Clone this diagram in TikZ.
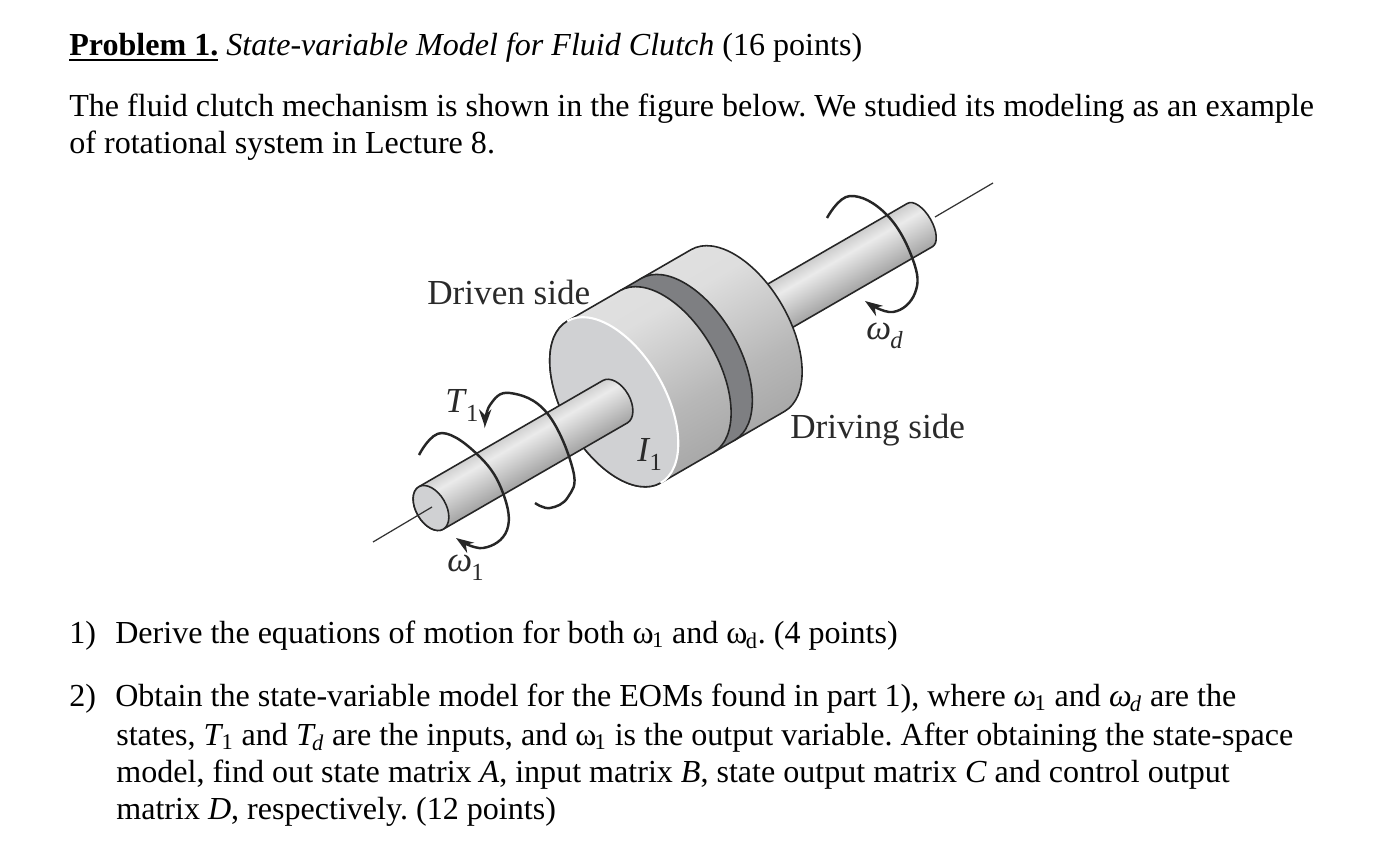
\documentclass[tikz,border=0pt]{standalone}
\usepackage{fontspec}
\setmainfont{Liberation Serif}
\usetikzlibrary{arrows.meta}

\definecolor{faceg}{HTML}{D0D1D3}
\definecolor{bandg}{HTML}{7E7F82}
\definecolor{inkg}{HTML}{2A2A2A}
\pgfdeclareverticalshading{rimshade}{100bp}{color(0bp)=(black!28);color(15bp)=(black!38);color(40bp)=(black!28);color(65bp)=(black!13);color(78bp)=(black!12);color(100bp)=(black!22)}
\pgfdeclareverticalshading{shaftshade}{100bp}{color(0bp)=(black!60);color(25bp)=(black!36);color(62bp)=(black!8);color(85bp)=(black!28);color(100bp)=(black!50)}

% outline of a cylinder: radii, then near and far station on the local y axis
\newcommand{\cylpath}[4]{([shift={(0,#4)}]180:#1 and #2) arc[start angle=180,end angle=360,x radius=#1,y radius=#2] -- ([shift={(0,#3)}]0:#1 and #2) arc[start angle=0,end angle=180,x radius=#1,y radius=#2] -- cycle}
\newcommand{\lowidx}[1]{\textsubscript{\kern-1pt #1}}
\newcommand{\figidx}[1]{\raisebox{-.28em}{\fontsize{14}{14}\selectfont\kern-.5pt #1}}

\tikzset{
  txt/.style={anchor=base west,inner sep=0pt,font=\fontsize{18.25}{20}\selectfont},
  figtxt/.style={anchor=base west,inner sep=0pt,text=inkg,font=\fontsize{20}{22}\selectfont},
  outline/.style={draw=black!85,line width=.9pt},
  turn/.style={line width=1.4pt,draw=black!85,-{Stealth[length=10pt,width=7pt]}},
  axisline/.style={line width=.7pt,black!80},
  discframe/.style={shift={(614,402)},rotate=-60},
  farframe/.style={shift={(920,225)},rotate=-60},
  nearframe/.style={shift={(431,508)},rotate=-60}
}

\begin{document}
\begin{tikzpicture}[x=0.02cm,y=-0.02cm]
\frenchspacing
\path[use as bounding box,fill=white] (0,0) rectangle (1386,852);

%% texts
\node[txt] (title) at (69,55) {\textbf{Problem 1.} \textit{State-variable Model for Fluid Clutch} (16 points)};
\draw[line width=1.3pt] (69,60) -- (218,60);
\node[txt] (introa) at (69,116) {The fluid clutch mechanism is shown in the figure below. We studied its modeling as an example};
\node[txt] (introb) at (69,153) {of rotational system in Lecture 8.};
\node[txt] (parta) at (69,643) {1)\hspace{0.6em}Derive the equations of motion for both ω\lowidx{1} and ω\lowidx{d}. (4 points)};
\node[txt] (partb) at (69,706) {2)\hspace{0.6em}Obtain the state-variable model for the EOMs found in part 1), where \textit{ω}\lowidx{1} and \textit{ω\lowidx{d}} are the};
\node[txt] (partc) at (116,745) {states, \textit{T}\lowidx{1} and \textit{T\lowidx{d}} are the inputs, and ω\lowidx{1} is the output variable. After obtaining the state-space};
\node[txt] (partd) at (116,782) {model, find out state matrix \textit{A}, input matrix \textit{B}, state output matrix \textit{C} and control output};
\node[txt] (parte) at (116,819) {matrix \textit{D}, respectively. (12 points)};

%% right shaft
\draw[axisline] (935,217)--(993,183);
\begin{scope}
\clip[farframe] \cylpath{25}{12}{197}{0};
\shade[shading=shaftshade,transform canvas={rotate around={30:(840,272)}}] (690,247) rectangle (990,297);
\end{scope}
\draw[outline,farframe] \cylpath{25}{12}{197}{0};

%% disc, rear to front
\begin{scope}
\clip[discframe] \cylpath{93.4}{51}{-85.5}{-143};
\shade[shading=rimshade,transform canvas={rotate around={30:(700,352)}}] (520,257) rectangle (880,447);
\end{scope}
\draw[outline,discframe] \cylpath{93.4}{51}{-85.5}{-143};
\fill[bandg,discframe] \cylpath{93.4}{51}{-61}{-85.5};
\draw[outline,discframe] \cylpath{93.4}{51}{-61}{-85.5};
\begin{scope}
\clip[discframe] \cylpath{93.4}{51}{0}{-61};
\shade[shading=rimshade,transform canvas={rotate around={30:(700,352)}}] (520,257) rectangle (880,447);
\end{scope}
\draw[outline,discframe] \cylpath{93.4}{51}{0}{-61};
\fill[faceg,discframe] (0,0) ellipse [x radius=93.4,y radius=51];
\draw[outline,discframe] (0:93.4 and 51) arc[start angle=0,end angle=180,x radius=93.4,y radius=51];
\draw[white,line width=1.2pt,discframe] (180:93.4 and 51) arc[start angle=180,end angle=360,x radius=93.4,y radius=51];

%% left shaft
\begin{scope}
\clip[nearframe] \cylpath{24.5}{15}{0}{-212.5};
\shade[shading=shaftshade,transform canvas={rotate around={30:(525,453)}}] (375,428) rectangle (675,478);
\end{scope}
\draw[outline,nearframe] \cylpath{24.5}{15}{0}{-212.5};
\draw[outline,fill=faceg,nearframe] (0,0) ellipse [x radius=24.5,y radius=15];
\draw[axisline] (373,542)--(432,507);

%% rotation arrows
\draw[turn] plot[smooth,tension=.7] coordinates {(535,503) (550,508) (568,497) (573,470) (547,413) (510,393) (490,405) (485,427)};
\draw[turn] plot[smooth,tension=.7] coordinates {(419,455) (442,433) (480,457) (503,493) (507,530) (483,548) (456,538)};
\draw[turn] plot[smooth,tension=.7] coordinates {(827,218) (850,196) (887,215) (913,260) (915,293) (893,312) (865,301)};

%% figure labels
\node[figtxt] (driven) at (427,304) {Driven side};
\node[figtxt] (driving) at (790,438) {Driving side};
\node[figtxt] (torque) at (445,412) {\textit{T}\figidx{1}};
\node[figtxt] (inertia) at (637,461) {\textit{I}\figidx{1}};
\node[figtxt] (omegaa) at (447,571) {\textit{ω}\figidx{1}};
\node[figtxt] (omegad) at (866,339) {\textit{ω}\figidx{\textit{d}}};
\end{tikzpicture}
\end{document}
